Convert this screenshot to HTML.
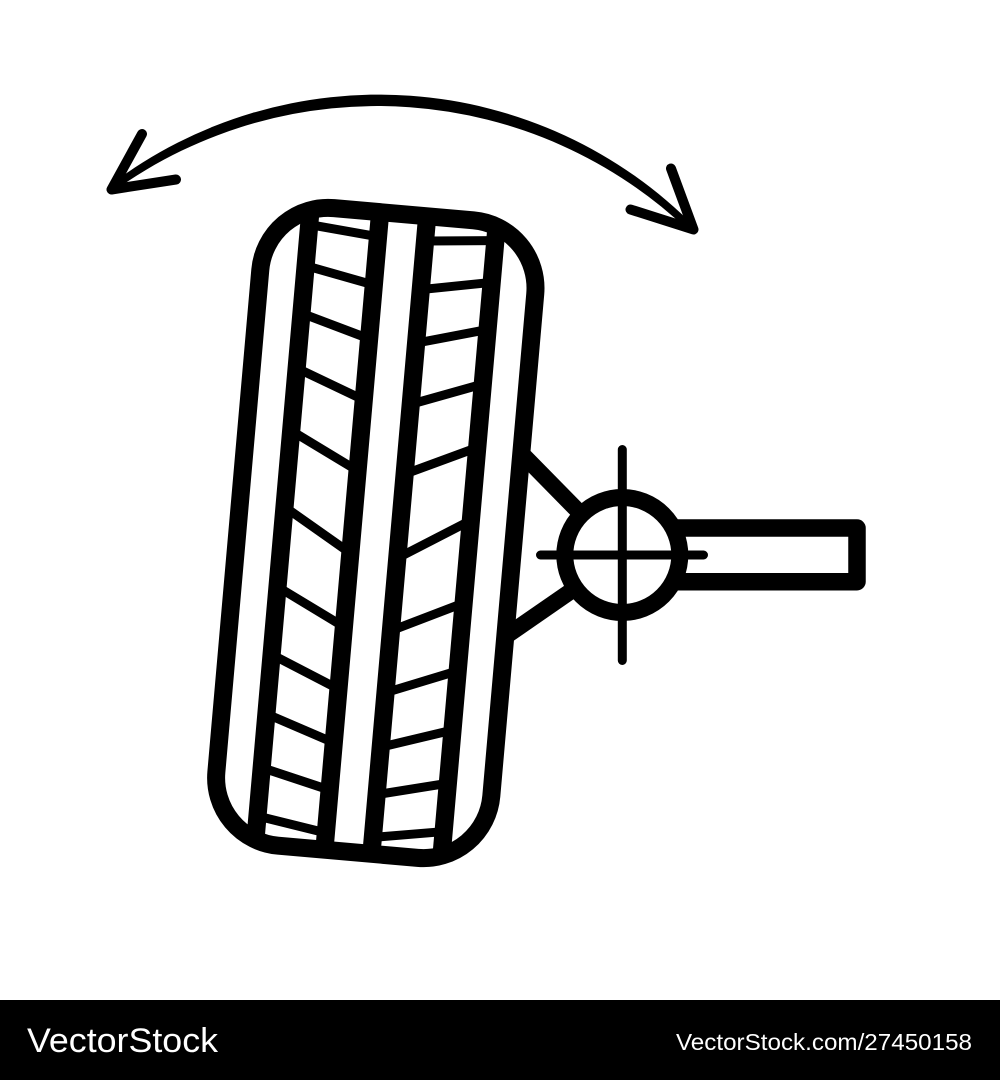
<!DOCTYPE html>
<html lang="en">
<head>
<meta charset="utf-8">
<title>Wheel alignment icon</title>
<style>
html,body{margin:0;padding:0;background:#fff;width:1000px;height:1080px;overflow:hidden}
svg{display:block}
text{font-family:"Liberation Sans",sans-serif;fill:#fff}
</style>
</head>
<body>
<svg width="1000" height="1080" viewBox="0 0 1000 1080" xmlns="http://www.w3.org/2000/svg">
<rect width="1000" height="1080" fill="#fff"/>

<!-- suspension arms and hub -->
<g fill="none" stroke="#000">
  <path d="M524 456 L580 513" stroke-width="16.5"/>
  <path d="M509 634 L574 589" stroke-width="16.5"/>
  <path d="M672 528 H857 V581.7 H672" stroke-width="17.5" stroke-linejoin="round"/>
  <circle cx="622.3" cy="555" r="57.5" stroke-width="17"/>
  <path d="M622.3 449.5 V660.5 M540.5 555 H703.5" stroke-width="9" stroke-linecap="round"/>
</g>

<!-- tire -->
<g fill="none" stroke="#000">
  <rect x="-138" y="-320" width="276" height="640" rx="68" ry="68" stroke-width="18" transform="translate(375.8 533) rotate(5)"/>
  <g transform="translate(375.8 533) rotate(5)" stroke-width="18.2">
    <path d="M-93.2 -314 V314 M-23.6 -318 V318 M23.6 -318 V318 M93.6 -314 V314"/>
  </g>
  <g stroke-width="9">
    <!-- left tread bars -->
    <path d="M311.4 224.9 L376.3 236.4"/>
    <path d="M308.9 266.6 L371.8 284.4"/>
    <path d="M304.7 314.4 L367 338"/>
    <path d="M299.7 369.5 L361.3 398.8"/>
    <path d="M294.1 432.4 L355.2 469.3"/>
    <path d="M287.4 508.8 L348.6 551.9"/>
    <path d="M280.8 588.7 L341.9 625.6"/>
    <path d="M275.1 656.3 L335.9 687.7"/>
    <path d="M270 715.4 L331.7 741.9"/>
    <path d="M265 768.7 L327.3 789.3"/>
    <path d="M260.5 816.8 L324.2 832.5"/>
    <!-- right tread bars -->
    <path d="M428 241 L492 240.6"/>
    <path d="M423.7 289.3 L488.6 282.7"/>
    <path d="M419.4 342.5 L484.6 330.1"/>
    <path d="M413.6 403.5 L479.7 384.9"/>
    <path d="M406.8 473.4 L474.2 448.6"/>
    <path d="M400.1 556.7 L468.3 521.6"/>
    <path d="M393.5 629.8 L460.5 604.2"/>
    <path d="M387.8 692 L454.8 671.7"/>
    <path d="M383.6 746.5 L449.7 730.8"/>
    <path d="M378.9 794.3 L445.1 783.7"/>
    <path d="M375.7 837.2 L441 831.8"/>
  </g>
</g>

<!-- double arrow -->
<path d="M109.9 185.2 A444 444 0 0 1 695.5 227.5 L690.5 232.5 A451 451 0 0 0 114.1 190.8 Z" fill="#000"/>
<g fill="none" stroke="#000" stroke-width="10" stroke-linecap="round" stroke-linejoin="round">
  <path d="M142 134 L111.5 189.5 L176 179.5"/>
  <path d="M671 168.5 L693.5 229.5 L630.5 209.5"/>
</g>

<!-- footer -->
<rect x="0" y="1000" width="1000" height="80" fill="#000"/>
<text x="27" y="1052" font-size="34.5" textLength="191" lengthAdjust="spacingAndGlyphs">VectorStock</text>
<text x="676" y="1050" font-size="23" textLength="296" lengthAdjust="spacingAndGlyphs">VectorStock.com/27450158</text>
</svg>
</body>
</html>
